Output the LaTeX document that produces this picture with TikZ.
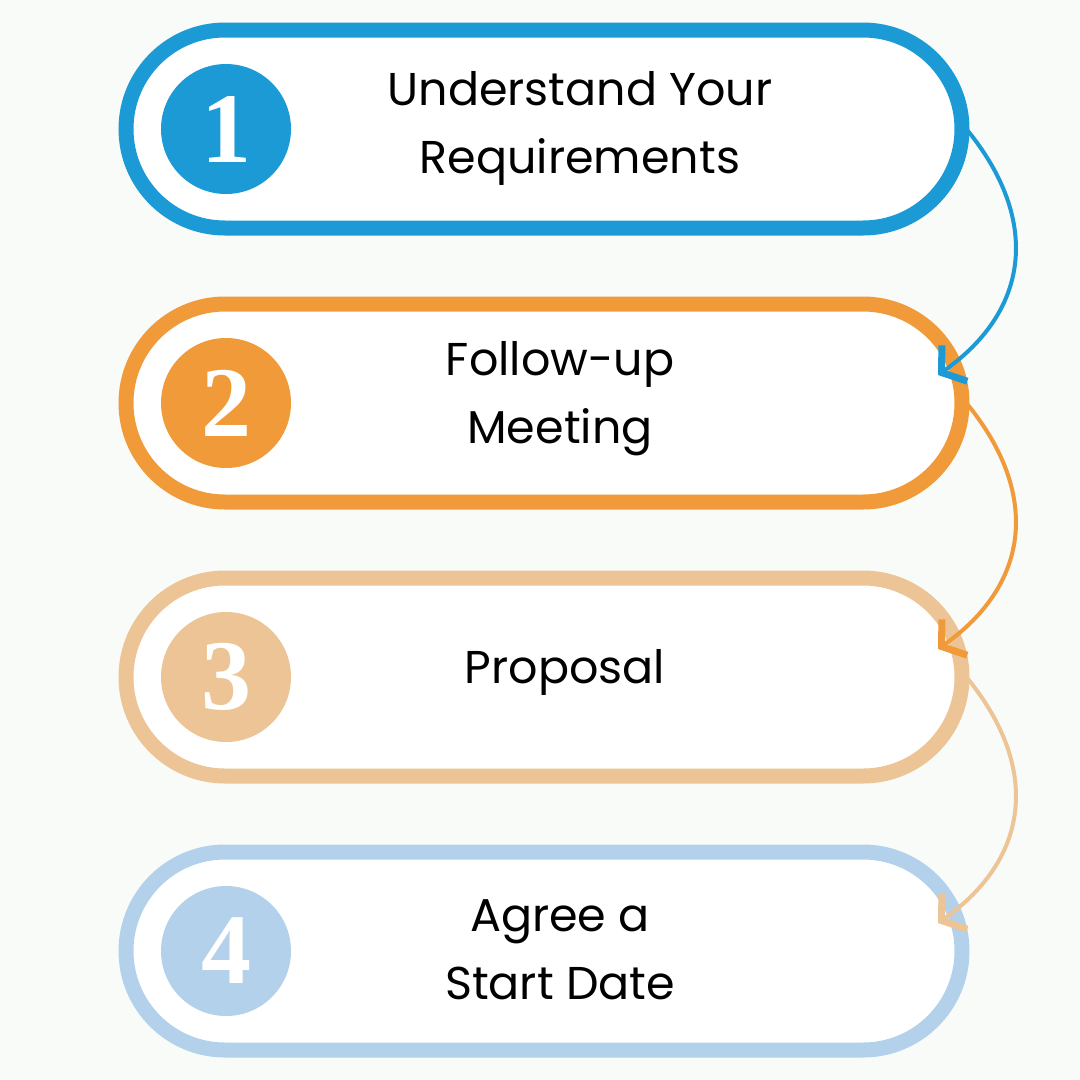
\documentclass[tikz,border=0pt]{standalone}
\usepackage{fontspec}
\setmainfont{Poppins}
\newfontfamily\numfont{Liberation Serif}
\usetikzlibrary{arrows.meta}
\definecolor{cA}{HTML}{1B9AD6}
\definecolor{cB}{HTML}{F09A3A}
\definecolor{cC}{HTML}{ECC496}
\definecolor{cD}{HTML}{B3D1EA}
\definecolor{bg}{HTML}{F9FBF9}
\begin{document}
\begin{tikzpicture}[x=1pt,y=-1pt,
  pill/.style={line width=15pt,rounded corners=99pt,fill=white},
  num/.style={circle,minimum size=130pt,inner sep=0pt,font=\numfont\bfseries\fontsize{100}{100}\selectfont,text=white},
  lbl/.style={align=center,font=\fontsize{46}{68}\selectfont},
  conn/.style={line width=4pt,-{Straight Barb[length=16pt,width=44pt,line width=7pt]}}]
\fill[bg] (0,0) rectangle (1080,1080);
\useasboundingbox (0,0) rectangle (1080,1080);
\foreach \i/\c/\y in {1/cA/129,2/cB/403,3/cC/677,4/cD/951}{
  \draw[pill,draw=\c] (126,\y-99) rectangle (962,\y+99);
  \node[num,fill=\c] (n\i) at (226,\y) {\i};
  \coordinate (s\i) at (968,\y+2);
  \coordinate (e\i) at (938,\y+246);
}
\node[lbl] (t1) at (580,128) {Understand Your\\Requirements};
\node[lbl] (t2) at (560,399) {Follow-up\\Meeting};
\node[lbl] (t3) at (565,672) {Proposal};
\node[lbl] (t4) at (560,950) {Agree a\\Start Date};
\draw[conn,cA] (s1) .. controls (1040,220) and (1030,310) .. (e1);
\draw[conn,cB] (s2) .. controls (1040,494) and (1030,584) .. (e2);
\draw[conn,cC] (s3) .. controls (1040,768) and (1030,858) .. (e3);
\end{tikzpicture}
\end{document}
